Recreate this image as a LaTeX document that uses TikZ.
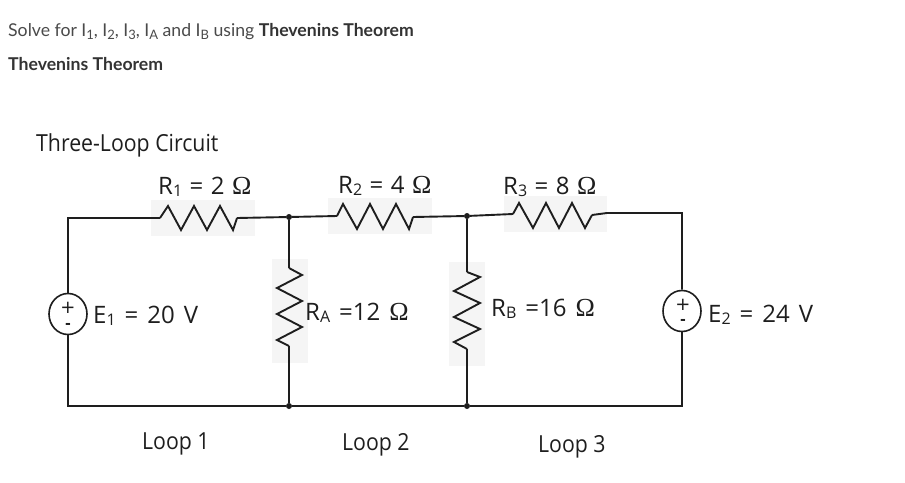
\documentclass[tikz,border=0pt]{standalone}
\usepackage{fontspec}
\setmainfont{Lato}
\newfontfamily\circfont[WordSpace=1.75]{Open Sans}
\newfontfamily\tightfont[WordSpace=1.2]{Open Sans}
\newfontfamily\titlefont[FakeStretch=0.905]{Open Sans}
\newfontfamily\signfont{DejaVu Sans}
\newfontfamily\omegafont{Liberation Serif}
\usetikzlibrary{shapes.geometric}
\definecolor{ink}{HTML}{1E1E1E}
\definecolor{webtext}{HTML}{4A4A4A}
\definecolor{webbold}{HTML}{333333}
\definecolor{shade}{HTML}{F5F5F5}
\newcommand{\websub}[1]{\raisebox{-3pt}{\fontsize{13}{13}\selectfont #1}}
\newcommand{\csub}[1]{\raisebox{-2pt}{\fontsize{16}{16}\selectfont #1}}
\newcommand{\ohm}{{\omegafont\fontsize{26}{26}\selectfont Ω}}
\tikzset{
  wire/.style={draw=ink,line width=1.9pt,line join=miter},
  zig/.style={draw=ink,line width=1.9pt,line join=miter},
  dotjoin/.style={circle,fill=ink,inner sep=0pt,minimum size=6pt},
  source/.style={ellipse,draw=ink,line width=1.6pt,fill=white,inner sep=0pt,minimum width=38pt,minimum height=41pt},
  webline/.style={anchor=base west,inner sep=0pt,font=\fontsize{17.65}{20}\selectfont,text=webtext},
  cirlabel/.style={anchor=base west,inner sep=0pt,font=\circfont\fontsize{24}{26}\selectfont,text=ink},
  toplabel/.style={cirlabel,font=\tightfont\fontsize{24}{26}\selectfont},
  titlelabel/.style={cirlabel,font=\titlefont\fontsize{23.5}{26}\selectfont},
  shadebox/.style={fill=shade,draw=none},
  sign/.style={inner sep=0pt,text=ink}
}
\begin{document}
\begin{tikzpicture}[x=1pt,y=-1pt]
\useasboundingbox (0,0) rectangle (905,482);
% shaded resistor backgrounds
\fill[shadebox] (151,200) rectangle (255,236);
\fill[shadebox] (328,198) rectangle (432,234);
\fill[shadebox] (504,196) rectangle (607,232);
\fill[shadebox] (272,259) rectangle (308,363);
\fill[shadebox] (449,262) rectangle (485,366);
% web text
\node[webline] (q1) at (8,36) {Solve for I\websub{1}, I\websub{2}, I\websub{3}, I\websub{A} and I\websub{B} using \textcolor{webbold}{\bfseries Thevenins Theorem}};
\node[webline,text=webbold] (q2) at (8,70) {\bfseries Thevenins Theorem};
\node[titlelabel] (title) at (36,151) {Three-Loop Circuit};
% labels
\node[toplabel] (lr1) at (158,194) {R\csub{1} = 2 \ohm};
\node[toplabel] (lr2) at (338,193) {R\csub{2} = 4 \ohm};
\node[toplabel] (lr3) at (503,194) {R\csub{3} = 8 \ohm};
\node[cirlabel] (le1) at (93,323) {E\csub{1} = 20 V};
\node[cirlabel] (lra) at (305,320) {R\csub{A} =12 \ohm};
\node[cirlabel] (lrb) at (491,316) {R\csub{B} =16 \ohm};
\node[cirlabel] (le2) at (708,322) {E\csub{2} = 24 V};
\node[titlelabel] (l1) at (142,449) {Loop 1};
\node[titlelabel] (l2) at (342,450) {Loop 2};
\node[titlelabel] (l3) at (538,452) {Loop 3};
% anchors
\coordinate (tl) at (68,218);
\coordinate (tr) at (682,213);
\coordinate (bl) at (68,406);
\coordinate (br) at (682,406);
\node[dotjoin] (ja) at (289,217) {};
\node[dotjoin] (jb) at (467,216) {};
\node[dotjoin] (jc) at (289,406) {};
\node[dotjoin] (jd) at (467,406) {};
\node[source] (e1) at (68,314) {};
\node[source] (e2) at (682,311) {};
\node[sign,font=\signfont\fontsize{18}{18}\selectfont] (e1p) at (68,308) {+};
\node[sign,font=\signfont\bfseries\fontsize{14}{14}\selectfont] (e1m) at (68,326) {-};
\node[sign,font=\signfont\fontsize{18}{18}\selectfont] (e2p) at (683,304.5) {+};
\node[sign,font=\signfont\bfseries\fontsize{14}{14}\selectfont] (e2m) at (683,322) {-};
% resistor ends
\coordinate (r1a) at (160,218); \coordinate (r1b) at (237,218);
\coordinate (r2a) at (337,216); \coordinate (r2b) at (413,217);
\coordinate (r3a) at (513,214); \coordinate (r3b) at (592,215);
\coordinate (raa) at (289,268); \coordinate (rab) at (289,346);
\coordinate (rba) at (467,272); \coordinate (rbb) at (467,349);
% resistors
\draw[zig] (r1a) -- (168,206) -- (181,230) -- (194,206) -- (207,230) -- (220,206) -- (233,230) -- (r1b);
\draw[zig] (r2a) -- (343,204) -- (357,229) -- (370,204) -- (383,229) -- (396,204) -- (409,229) -- (r2b);
\draw[zig] (r3a) -- (519,203) -- (533,228) -- (546,203) -- (559,228) -- (572,203) -- (585,228) -- (r3b);
\draw[zig] (raa) -- (302,275) -- (277,288) -- (302,301) -- (277,314) -- (302,327) -- (277,340) -- (rab);
\draw[zig] (rba) -- (480,277) -- (454,291) -- (480,303) -- (454,317) -- (480,329) -- (454,342) -- (rbb);
% wires
\draw[wire] (e1.north) -- (tl) -- (r1a);
\draw[wire] (r1b) -- (ja);
\draw[wire] (ja) -- (r2a);
\draw[wire] (r2b) -- (jb);
\draw[wire] (jb) -- (r3a);
\draw[wire] (r3b) -- (607,213) -- (tr) -- (e2.north);
\draw[wire] (e2.south) -- (br) -- (jd);
\draw[wire] (jd) -- (jc);
\draw[wire] (jc) -- (bl) -- (e1.south);
\draw[wire] (ja) -- (raa);
\draw[wire] (rab) -- (jc);
\draw[wire] (jb) -- (rba);
\draw[wire] (rbb) -- (jd);
\end{tikzpicture}
\end{document}
